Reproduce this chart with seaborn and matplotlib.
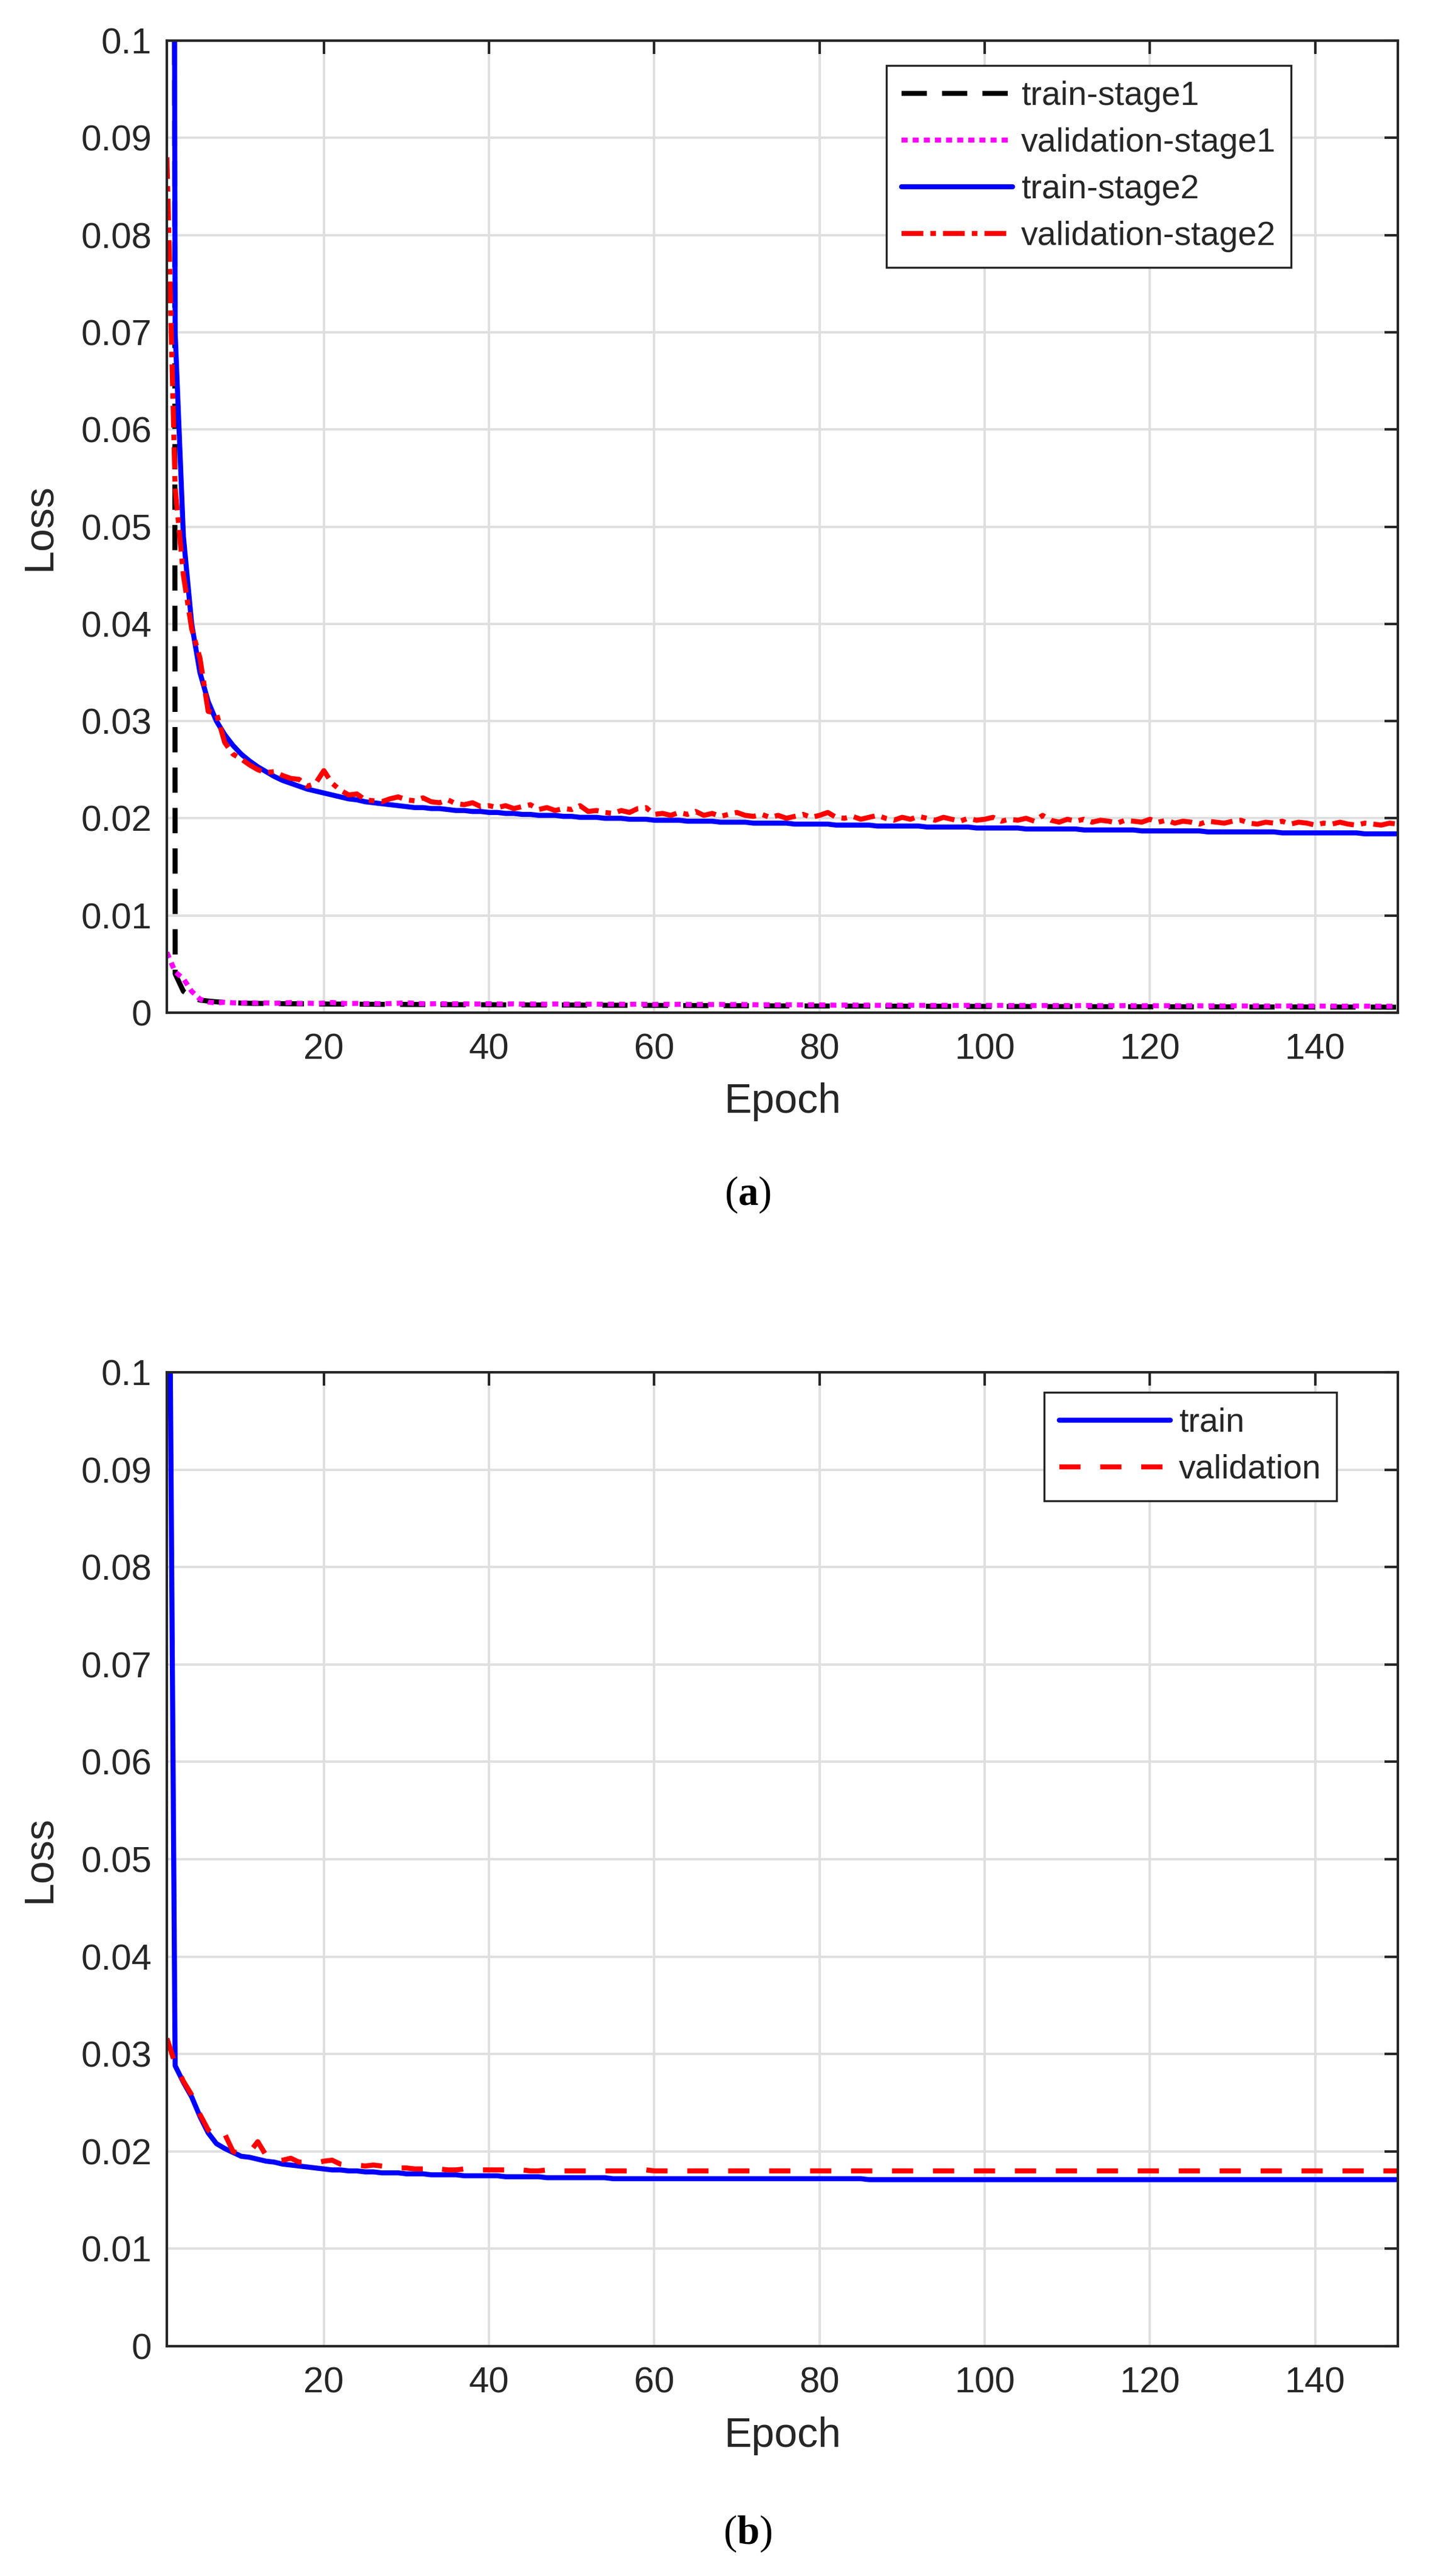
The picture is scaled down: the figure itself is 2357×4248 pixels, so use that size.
import numpy as np
import pandas as pd
import matplotlib
matplotlib.use("Agg")
import matplotlib.pyplot as plt
import seaborn as sns

# ---- data ----
epochs = list(range(1, 151))

# panel (a)
train_stage1 = [
    1.5, 0.0040, 0.0022, 0.0016, 0.0013, 0.00120, 0.00112, 0.00106, 0.00102, 0.00099,
    0.00097, 0.00096, 0.00095, 0.00094, 0.00093, 0.00092, 0.00092, 0.00091, 0.00090, 0.00090,
    0.00089, 0.00089, 0.00088, 0.00088, 0.00087, 0.00087, 0.00086, 0.00086, 0.00086, 0.00085,
    0.00085, 0.00085, 0.00084, 0.00084, 0.00084, 0.00083, 0.00083, 0.00083, 0.00082, 0.00082,
    0.00082, 0.00081, 0.00081, 0.00081, 0.00080, 0.00080, 0.00080, 0.00079, 0.00079, 0.00079,
    0.00078, 0.00078, 0.00078, 0.00077, 0.00077, 0.00077, 0.00076, 0.00076, 0.00076, 0.00075,
    0.00075, 0.00075, 0.00074, 0.00074, 0.00074, 0.00073, 0.00073, 0.00073, 0.00072, 0.00072,
    0.00072, 0.00071, 0.00071, 0.00071, 0.00070, 0.00070, 0.00070, 0.00070, 0.00069, 0.00069,
    0.00069, 0.00069, 0.00068, 0.00068, 0.00068, 0.00068, 0.00067, 0.00067, 0.00067, 0.00067,
    0.00066, 0.00066, 0.00066, 0.00066, 0.00066, 0.00065, 0.00065, 0.00065, 0.00065, 0.00065,
    0.00064, 0.00064, 0.00064, 0.00064, 0.00064, 0.00063, 0.00063, 0.00063, 0.00063, 0.00063,
    0.00063, 0.00062, 0.00062, 0.00062, 0.00062, 0.00062, 0.00062, 0.00061, 0.00061, 0.00061,
    0.00061, 0.00061, 0.00061, 0.00061, 0.00060, 0.00060, 0.00060, 0.00060, 0.00060, 0.00060,
    0.00060, 0.00059, 0.00059, 0.00059, 0.00059, 0.00059, 0.00059, 0.00059, 0.00059, 0.00058,
    0.00058, 0.00058, 0.00058, 0.00058, 0.00058, 0.00058, 0.00058, 0.00058, 0.00057, 0.00057,
]
val_stage1 = [
    0.0062, 0.0042, 0.0035, 0.0022, 0.0014, 0.0011, 0.00100, 0.00108, 0.00102, 0.00100,
    0.00104, 0.00099, 0.00101, 0.00097, 0.00100, 0.00104, 0.00096, 0.00098, 0.00095, 0.00099,
    0.00105, 0.00097, 0.00094, 0.00096, 0.00093, 0.00095, 0.00092, 0.00094, 0.00097, 0.00103,
    0.00096, 0.00093, 0.00091, 0.00094, 0.00090, 0.00092, 0.00091, 0.00089, 0.00090, 0.00092,
    0.00090, 0.00089, 0.00091, 0.00088, 0.00090, 0.00089, 0.00087, 0.00090, 0.00088, 0.00087,
    0.00089, 0.00087, 0.00088, 0.00086, 0.00088, 0.00087, 0.00086, 0.00088, 0.00086, 0.00085,
    0.00087, 0.00085, 0.00086, 0.00085, 0.00084, 0.00086, 0.00084, 0.00085, 0.00083, 0.00085,
    0.00084, 0.00082, 0.00081, 0.00082, 0.00080, 0.00082, 0.00081, 0.00080, 0.00082, 0.00080,
    0.00079, 0.00077, 0.00078, 0.00079, 0.00077, 0.00078, 0.00076, 0.00078, 0.00077, 0.00076,
    0.00077, 0.00075, 0.00076, 0.00074, 0.00076, 0.00075, 0.00074, 0.00076, 0.00074, 0.00075,
    0.00074, 0.00075, 0.00073, 0.00074, 0.00075, 0.00073, 0.00074, 0.00072, 0.00074, 0.00073,
    0.00072, 0.00074, 0.00073, 0.00072, 0.00073, 0.00071, 0.00073, 0.00072, 0.00071, 0.00073,
    0.00071, 0.00072, 0.00071, 0.00070, 0.00072, 0.00071, 0.00070, 0.00071, 0.00069, 0.00071,
    0.00070, 0.00069, 0.00071, 0.00069, 0.00070, 0.00068, 0.00070, 0.00069, 0.00068, 0.00069,
    0.00068, 0.00069, 0.00067, 0.00068, 0.00069, 0.00067, 0.00068, 0.00067, 0.00066, 0.00067,
]
train_stage2 = [
    0.50, 0.0700, 0.0490, 0.0400, 0.0350, 0.0320, 0.0300, 0.0286, 0.0275, 0.0266,
    0.0259, 0.0253, 0.0248, 0.0243, 0.0239, 0.0236, 0.0233, 0.0230, 0.0228, 0.0226,
    0.0224, 0.0222, 0.0220, 0.0219, 0.0217, 0.0216, 0.0215, 0.0214, 0.0213, 0.0212,
    0.0211, 0.0211, 0.0210, 0.0210, 0.0209, 0.0208, 0.0208, 0.0207, 0.0207, 0.0206,
    0.0206, 0.0205, 0.0205, 0.0204, 0.0204, 0.0203, 0.0203, 0.0203, 0.0202, 0.0202,
    0.0201, 0.0201, 0.0201, 0.0200, 0.0200, 0.0200, 0.0199, 0.0199, 0.0199, 0.0198,
    0.0198, 0.0198, 0.0198, 0.0197, 0.0197, 0.0197, 0.0197, 0.0196, 0.0196, 0.0196,
    0.0196, 0.0195, 0.0195, 0.0195, 0.0195, 0.0195, 0.0194, 0.0194, 0.0194, 0.0194,
    0.0194, 0.0193, 0.0193, 0.0193, 0.0193, 0.0193, 0.0192, 0.0192, 0.0192, 0.0192,
    0.0192, 0.0192, 0.0191, 0.0191, 0.0191, 0.0191, 0.0191, 0.0191, 0.0190, 0.0190,
    0.0190, 0.0190, 0.0190, 0.0190, 0.0189, 0.0189, 0.0189, 0.0189, 0.0189, 0.0189,
    0.0189, 0.0188, 0.0188, 0.0188, 0.0188, 0.0188, 0.0188, 0.0188, 0.0187, 0.0187,
    0.0187, 0.0187, 0.0187, 0.0187, 0.0187, 0.0187, 0.0186, 0.0186, 0.0186, 0.0186,
    0.0186, 0.0186, 0.0186, 0.0186, 0.0186, 0.0185, 0.0185, 0.0185, 0.0185, 0.0185,
    0.0185, 0.0185, 0.0185, 0.0185, 0.0185, 0.0184, 0.0184, 0.0184, 0.0184, 0.0184,
]
val_stage2 = [
    0.0880, 0.0540, 0.0450, 0.0395, 0.0365, 0.0310, 0.0308, 0.0278, 0.0266, 0.0261,
    0.0255, 0.0250, 0.0247, 0.0248, 0.0244, 0.0241, 0.0240, 0.0233, 0.0236, 0.0249,
    0.0236, 0.0229, 0.0224, 0.0225, 0.0219, 0.0218, 0.0217, 0.0220, 0.0222, 0.0219,
    0.0218, 0.0221, 0.0217, 0.0216, 0.0219, 0.0215, 0.0214, 0.0216, 0.0212, 0.0213,
    0.0211, 0.0213, 0.0210, 0.0212, 0.0214, 0.0209, 0.0211, 0.0208, 0.0210, 0.0209,
    0.0213, 0.0207, 0.0208, 0.0206, 0.0205, 0.0208, 0.0206, 0.0210, 0.0211, 0.0204,
    0.0205, 0.0203, 0.0206, 0.0204, 0.0207, 0.0203, 0.0205, 0.0202, 0.0204, 0.0206,
    0.0203, 0.0202, 0.0204, 0.0201, 0.0203, 0.0200, 0.0202, 0.0204, 0.0201, 0.0203,
    0.0206, 0.0201, 0.0200, 0.0202, 0.0199, 0.0201, 0.0203, 0.0200, 0.0198, 0.0201,
    0.0199, 0.0202, 0.0200, 0.0198, 0.0201, 0.0199, 0.0197, 0.0200, 0.0198, 0.0199,
    0.0201, 0.0197, 0.0199, 0.0198, 0.0200, 0.0197, 0.0203, 0.0198, 0.0196, 0.0199,
    0.0197, 0.0199, 0.0196, 0.0198, 0.0197, 0.0195, 0.0198, 0.0197, 0.0196, 0.0199,
    0.0196, 0.0198, 0.0195, 0.0197, 0.0196, 0.0194, 0.0197, 0.0196, 0.0195, 0.0197,
    0.0198, 0.0195, 0.0194, 0.0196, 0.0195, 0.0197, 0.0194, 0.0196, 0.0195, 0.0193,
    0.0195, 0.0194, 0.0196, 0.0194, 0.0193, 0.0195, 0.0194, 0.0193, 0.0195, 0.0194,
]

# panel (b)
train_b = [
    0.151, 0.0288, 0.0271, 0.0256, 0.0236, 0.0219, 0.0208, 0.0203, 0.0199, 0.0195,
    0.0194, 0.0192, 0.0190, 0.0189, 0.0187, 0.0186, 0.0185, 0.0184, 0.0183, 0.0182,
    0.0181, 0.0181, 0.0180, 0.0180, 0.0179, 0.0179, 0.0178, 0.0178, 0.0178, 0.0177,
    0.0177, 0.0177, 0.0176, 0.0176, 0.0176, 0.0176, 0.0175, 0.0175, 0.0175, 0.0175,
    0.0175, 0.0174, 0.0174, 0.0174, 0.0174, 0.0174, 0.0173, 0.0173, 0.0173, 0.0173,
    0.0173, 0.0173, 0.0173, 0.0173, 0.0172, 0.0172, 0.0172, 0.0172, 0.0172, 0.0172,
    0.0172, 0.0172, 0.0172, 0.0172, 0.0172, 0.0172, 0.0172, 0.0172, 0.0172, 0.0172,
    0.0172, 0.0172, 0.0172, 0.0172, 0.0172, 0.0172, 0.0172, 0.0172, 0.0172, 0.0172,
    0.0172, 0.0172, 0.0172, 0.0172, 0.0172, 0.0171, 0.0171, 0.0171, 0.0171, 0.0171,
    0.0171, 0.0171, 0.0171, 0.0171, 0.0171, 0.0171, 0.0171, 0.0171, 0.0171, 0.0171,
    0.0171, 0.0171, 0.0171, 0.0171, 0.0171, 0.0171, 0.0171, 0.0171, 0.0171, 0.0171,
    0.0171, 0.0171, 0.0171, 0.0171, 0.0171, 0.0171, 0.0171, 0.0171, 0.0171, 0.0171,
    0.0171, 0.0171, 0.0171, 0.0171, 0.0171, 0.0171, 0.0171, 0.0171, 0.0171, 0.0171,
    0.0171, 0.0171, 0.0171, 0.0171, 0.0171, 0.0171, 0.0171, 0.0171, 0.0171, 0.0171,
    0.0171, 0.0171, 0.0171, 0.0171, 0.0171, 0.0171, 0.0171, 0.0171, 0.0171, 0.0171,
]
val_b = [
    0.0316, 0.0290, 0.0272, 0.0258, 0.0238, 0.0222, 0.0214, 0.0218, 0.0200, 0.0197,
    0.0199, 0.0210, 0.0196, 0.0190, 0.0191, 0.0193, 0.0189, 0.0189, 0.0188, 0.0190,
    0.0191, 0.0187, 0.0186, 0.0186, 0.0185, 0.0186, 0.0185, 0.0184, 0.0183, 0.0183,
    0.0182, 0.0182, 0.0184, 0.0182, 0.0181, 0.0181, 0.0182, 0.0181, 0.0181, 0.0181,
    0.0181, 0.0181, 0.0180, 0.0181, 0.0180, 0.0180, 0.0181, 0.0180, 0.0180, 0.0180,
    0.0180, 0.0180, 0.0180, 0.0180, 0.0180, 0.0180, 0.0180, 0.0180, 0.0181, 0.0180,
    0.0180, 0.0180, 0.0180, 0.0180, 0.0180, 0.0180, 0.0180, 0.0180, 0.0180, 0.0180,
    0.0180, 0.0180, 0.0180, 0.0180, 0.0180, 0.0180, 0.0180, 0.0180, 0.0180, 0.0180,
    0.0180, 0.0180, 0.0180, 0.0180, 0.0180, 0.0180, 0.0180, 0.0180, 0.0180, 0.0180,
    0.0180, 0.0180, 0.0180, 0.0180, 0.0180, 0.0180, 0.0180, 0.0180, 0.0180, 0.0180,
    0.0180, 0.0180, 0.0180, 0.0180, 0.0180, 0.0180, 0.0180, 0.0180, 0.0180, 0.0180,
    0.0180, 0.0180, 0.0180, 0.0180, 0.0180, 0.0180, 0.0180, 0.0180, 0.0180, 0.0180,
    0.0180, 0.0180, 0.0180, 0.0180, 0.0180, 0.0180, 0.0180, 0.0180, 0.0180, 0.0180,
    0.0180, 0.0180, 0.0180, 0.0180, 0.0180, 0.0180, 0.0180, 0.0180, 0.0180, 0.0180,
    0.0180, 0.0180, 0.0180, 0.0180, 0.0180, 0.0180, 0.0180, 0.0180, 0.0180, 0.0180,
]

xticks = [20, 40, 60, 80, 100, 120, 140]
yticks = [0, 0.01, 0.02, 0.03, 0.04, 0.05, 0.06, 0.07, 0.08, 0.09, 0.1]
ytick_labels = ['0', '0.01', '0.02', '0.03', '0.04', '0.05', '0.06', '0.07', '0.08', '0.09', '0.1']

# ---- style ----
sns.set_theme(style='white')
plt.rcParams['font.family'] = ['Liberation Sans', 'DejaVu Sans']
plt.rcParams['mathtext.fontset'] = 'custom'
plt.rcParams['mathtext.rm'] = 'Liberation Serif'
plt.rcParams['mathtext.bf'] = 'Liberation Serif:bold'

AX_COL = '#262626'
GRID_COL = '#dfdfdf'
LW = 3.0

fig = plt.figure(figsize=(11.785, 21.24), dpi=200)
ax_a = fig.add_axes([0.1167, 0.60687, 0.8608, 0.37736])
ax_b = fig.add_axes([0.1167, 0.08921, 0.8608, 0.37806])


def style_axes(ax):
    ax.set_xlim(1, 150)
    ax.set_ylim(0, 0.1)
    ax.set_xticks(xticks)
    ax.set_xticklabels([str(t) for t in xticks])
    ax.set_yticks(yticks)
    ax.set_yticklabels(ytick_labels)
    ax.grid(True, color=GRID_COL, linewidth=1.4)
    ax.set_axisbelow(True)
    for sp in ax.spines.values():
        sp.set_visible(True)
        sp.set_color(AX_COL)
        sp.set_linewidth(1.5)
    ax.tick_params(direction='in', top=True, right=True, length=8, width=1.5,
                   color=AX_COL, labelcolor=AX_COL, labelsize=21.5)
    ax.tick_params(axis='x', pad=12)
    ax.tick_params(axis='y', pad=9)
    ax.set_xlabel('Epoch', fontsize=24.5, color=AX_COL)
    ax.set_ylabel('Loss', fontsize=24.5, color=AX_COL)
    ax.xaxis.set_label_coords(0.5, -0.072)
    ax.yaxis.set_label_coords(-0.088, 0.5)


# ---- panel (a) ----
df_a = pd.DataFrame({
    'epoch': epochs,
    'train-stage1': train_stage1,
    'validation-stage1': val_stage1,
    'train-stage2': train_stage2,
    'validation-stage2': val_stage2,
})
series_a = [
    ('train-stage1', 'black', (0, (5.0, 3.0))),
    ('validation-stage1', '#ff00ff', (0, (1.2, 1.0))),
    ('train-stage2', '#0000ff', '-'),
    ('validation-stage2', '#ff0000', (0, (4.3, 1.4, 1.1, 1.4))),
]
for name, col, ls in series_a:
    sns.lineplot(data=df_a, x='epoch', y=name, ax=ax_a, color=col, linewidth=LW,
                 label=name, errorbar=None, legend=False)
    ax_a.lines[-1].set_linestyle(ls)
style_axes(ax_a)
leg = ax_a.legend(loc='upper right', bbox_to_anchor=(0.9133, 0.9744), borderaxespad=0,
                  fontsize=20, handlelength=3.3, handletextpad=0.25, labelspacing=0.45,
                  borderpad=0.45, fancybox=False, framealpha=1, edgecolor=AX_COL)
leg.get_frame().set_linewidth(1.2)

# ---- panel (b) ----
df_b = pd.DataFrame({'epoch': epochs, 'train': train_b, 'validation': val_b})
series_b = [
    ('train', '#0000ff', '-'),
    ('validation', '#ff0000', (0, (4.2, 3.9))),
]
for name, col, ls in series_b:
    sns.lineplot(data=df_b, x='epoch', y=name, ax=ax_b, color=col, linewidth=LW,
                 label=name, errorbar=None, legend=False)
    ax_b.lines[-1].set_linestyle(ls)
style_axes(ax_b)
leg = ax_b.legend(loc='upper right', bbox_to_anchor=(0.9502, 0.9795), borderaxespad=0,
                  fontsize=20, handlelength=3.3, handletextpad=0.25, labelspacing=0.45,
                  borderpad=0.45, fancybox=False, framealpha=1, edgecolor=AX_COL)
leg.get_frame().set_linewidth(1.2)

# ---- captions ----
fig.text(0.5227, 0.5362, r'($\mathbf{a}$)', ha='center', va='center', fontsize=24,
         family='Liberation Serif', color='black')
fig.text(0.5227, 0.01648, r'($\mathbf{b}$)', ha='center', va='center', fontsize=24,
         family='Liberation Serif', color='black')

fig.savefig('out.png', dpi=200)
plt.close(fig)
